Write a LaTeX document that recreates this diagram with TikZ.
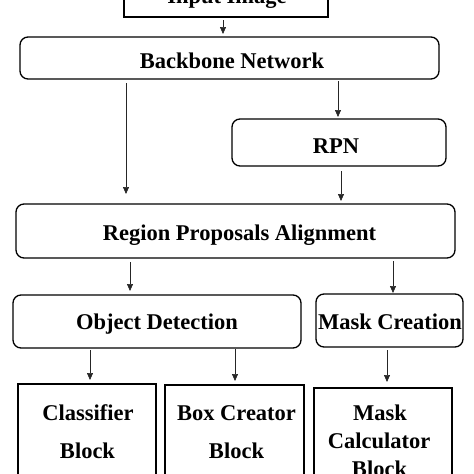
\documentclass[tikz,border=0pt]{standalone}
\usepackage{fontspec}
\setmainfont{Liberation Serif}
\usetikzlibrary{arrows.meta}
\begin{document}
\begin{tikzpicture}[x=1pt,y=-1pt,
  rbox/.style={draw, line width=1.3pt, rounded corners=8pt, inner sep=0pt, outer sep=0pt},
  sbox/.style={draw, line width=1.3pt, inner sep=0pt, outer sep=0pt},
  lbl/.style={font=\bfseries\fontsize{22.5}{27}\selectfont, anchor=base, inner sep=0pt},
  arr/.style={-{Triangle[length=7pt,width=6pt]}, line width=0.7pt, draw=black!85}]
\useasboundingbox (0,0) rectangle (474,474);
\clip (0,0) rectangle (474,474);
\fill[white] (0,0) rectangle (474,474);
% boxes
\node[sbox, minimum width=204pt, minimum height=47pt] (inp) at (226,-6.5) {};
\node[rbox, minimum width=419pt, minimum height=42pt] (bb) at (229.5,58) {};
\node[rbox, minimum width=214pt, minimum height=47pt] (rpn) at (339,142.5) {};
\node[rbox, minimum width=439pt, minimum height=54pt] (rpa) at (235.5,231) {};
\node[rbox, minimum width=288pt, minimum height=53pt] (od) at (157,321.5) {};
\node[rbox, minimum width=147pt, minimum height=53pt] (mc) at (389.5,320.5) {};
\node[sbox, minimum width=138pt, minimum height=136pt] (cls) at (87,452) {};
\node[sbox, minimum width=139pt, minimum height=135pt] (bx) at (234.5,452.5) {};
\node[sbox, minimum width=138pt, minimum height=132pt] (mcb) at (383,454) {};
% labels
\node[lbl] (tinp) at (227,3) {Input Image};
\node[lbl] (tbb) at (232,68) {Backbone Network};
\node[lbl] (trpn) at (336,153) {RPN};
\node[lbl] (trpa) at (239.5,240) {Region Proposals Alignment};
\node[lbl] (tod) at (157,329.5) {Object Detection};
\node[lbl] (tmc) at (390,329.5) {Mask Creation};
\node[lbl] (tcls1) at (88,420) {Classifier};
\node[lbl] (tcls2) at (87.5,458) {Block};
\node[lbl] (tbx1) at (236.5,420) {Box Creator};
\node[lbl] (tbx2) at (236.5,458) {Block};
\node[lbl] (tmcb1) at (380,420) {Mask};
\node[lbl] (tmcb2) at (379,448) {Calculator};
\node[lbl] (tmcb3) at (379.5,476) {Block};
% arrow x positions
\coordinate (a0) at (223,0);
\coordinate (a1) at (126,0);
\coordinate (a2) at (338,0);
\coordinate (a3) at (341,0);
\coordinate (a4) at (130,0);
\coordinate (a5) at (393,0);
\coordinate (a6) at (90,0);
\coordinate (a7) at (235,0);
\coordinate (a8) at (387,0);
% connectors
\draw[arr, shorten <=3pt, shorten >=3pt] (inp.south -| a0) -- (bb.north -| a0);
\draw[arr, shorten <=4pt, shorten >=10pt] (bb.south -| a1) -- (rpa.north -| a1);
\draw[arr, shorten <=2pt, shorten >=2pt] (bb.south -| a2) -- (rpn.north -| a2);
\draw[arr, shorten <=5pt, shorten >=3pt] (rpn.south -| a3) -- (rpa.north -| a3);
\draw[arr, shorten <=4pt, shorten >=4pt] (rpa.south -| a4) -- (od.north -| a4);
\draw[arr, shorten <=3pt, shorten >=1pt] (rpa.south -| a5) -- (mc.north -| a5);
\draw[arr, shorten <=2pt, shorten >=4pt] (od.south -| a6) -- (cls.north -| a6);
\draw[arr, shorten <=1pt, shorten >=4pt] (od.south -| a7) -- (bx.north -| a7);
\draw[arr, shorten <=3pt, shorten >=6pt] (mc.south -| a8) -- (mcb.north -| a8);
\end{tikzpicture}
\end{document}
